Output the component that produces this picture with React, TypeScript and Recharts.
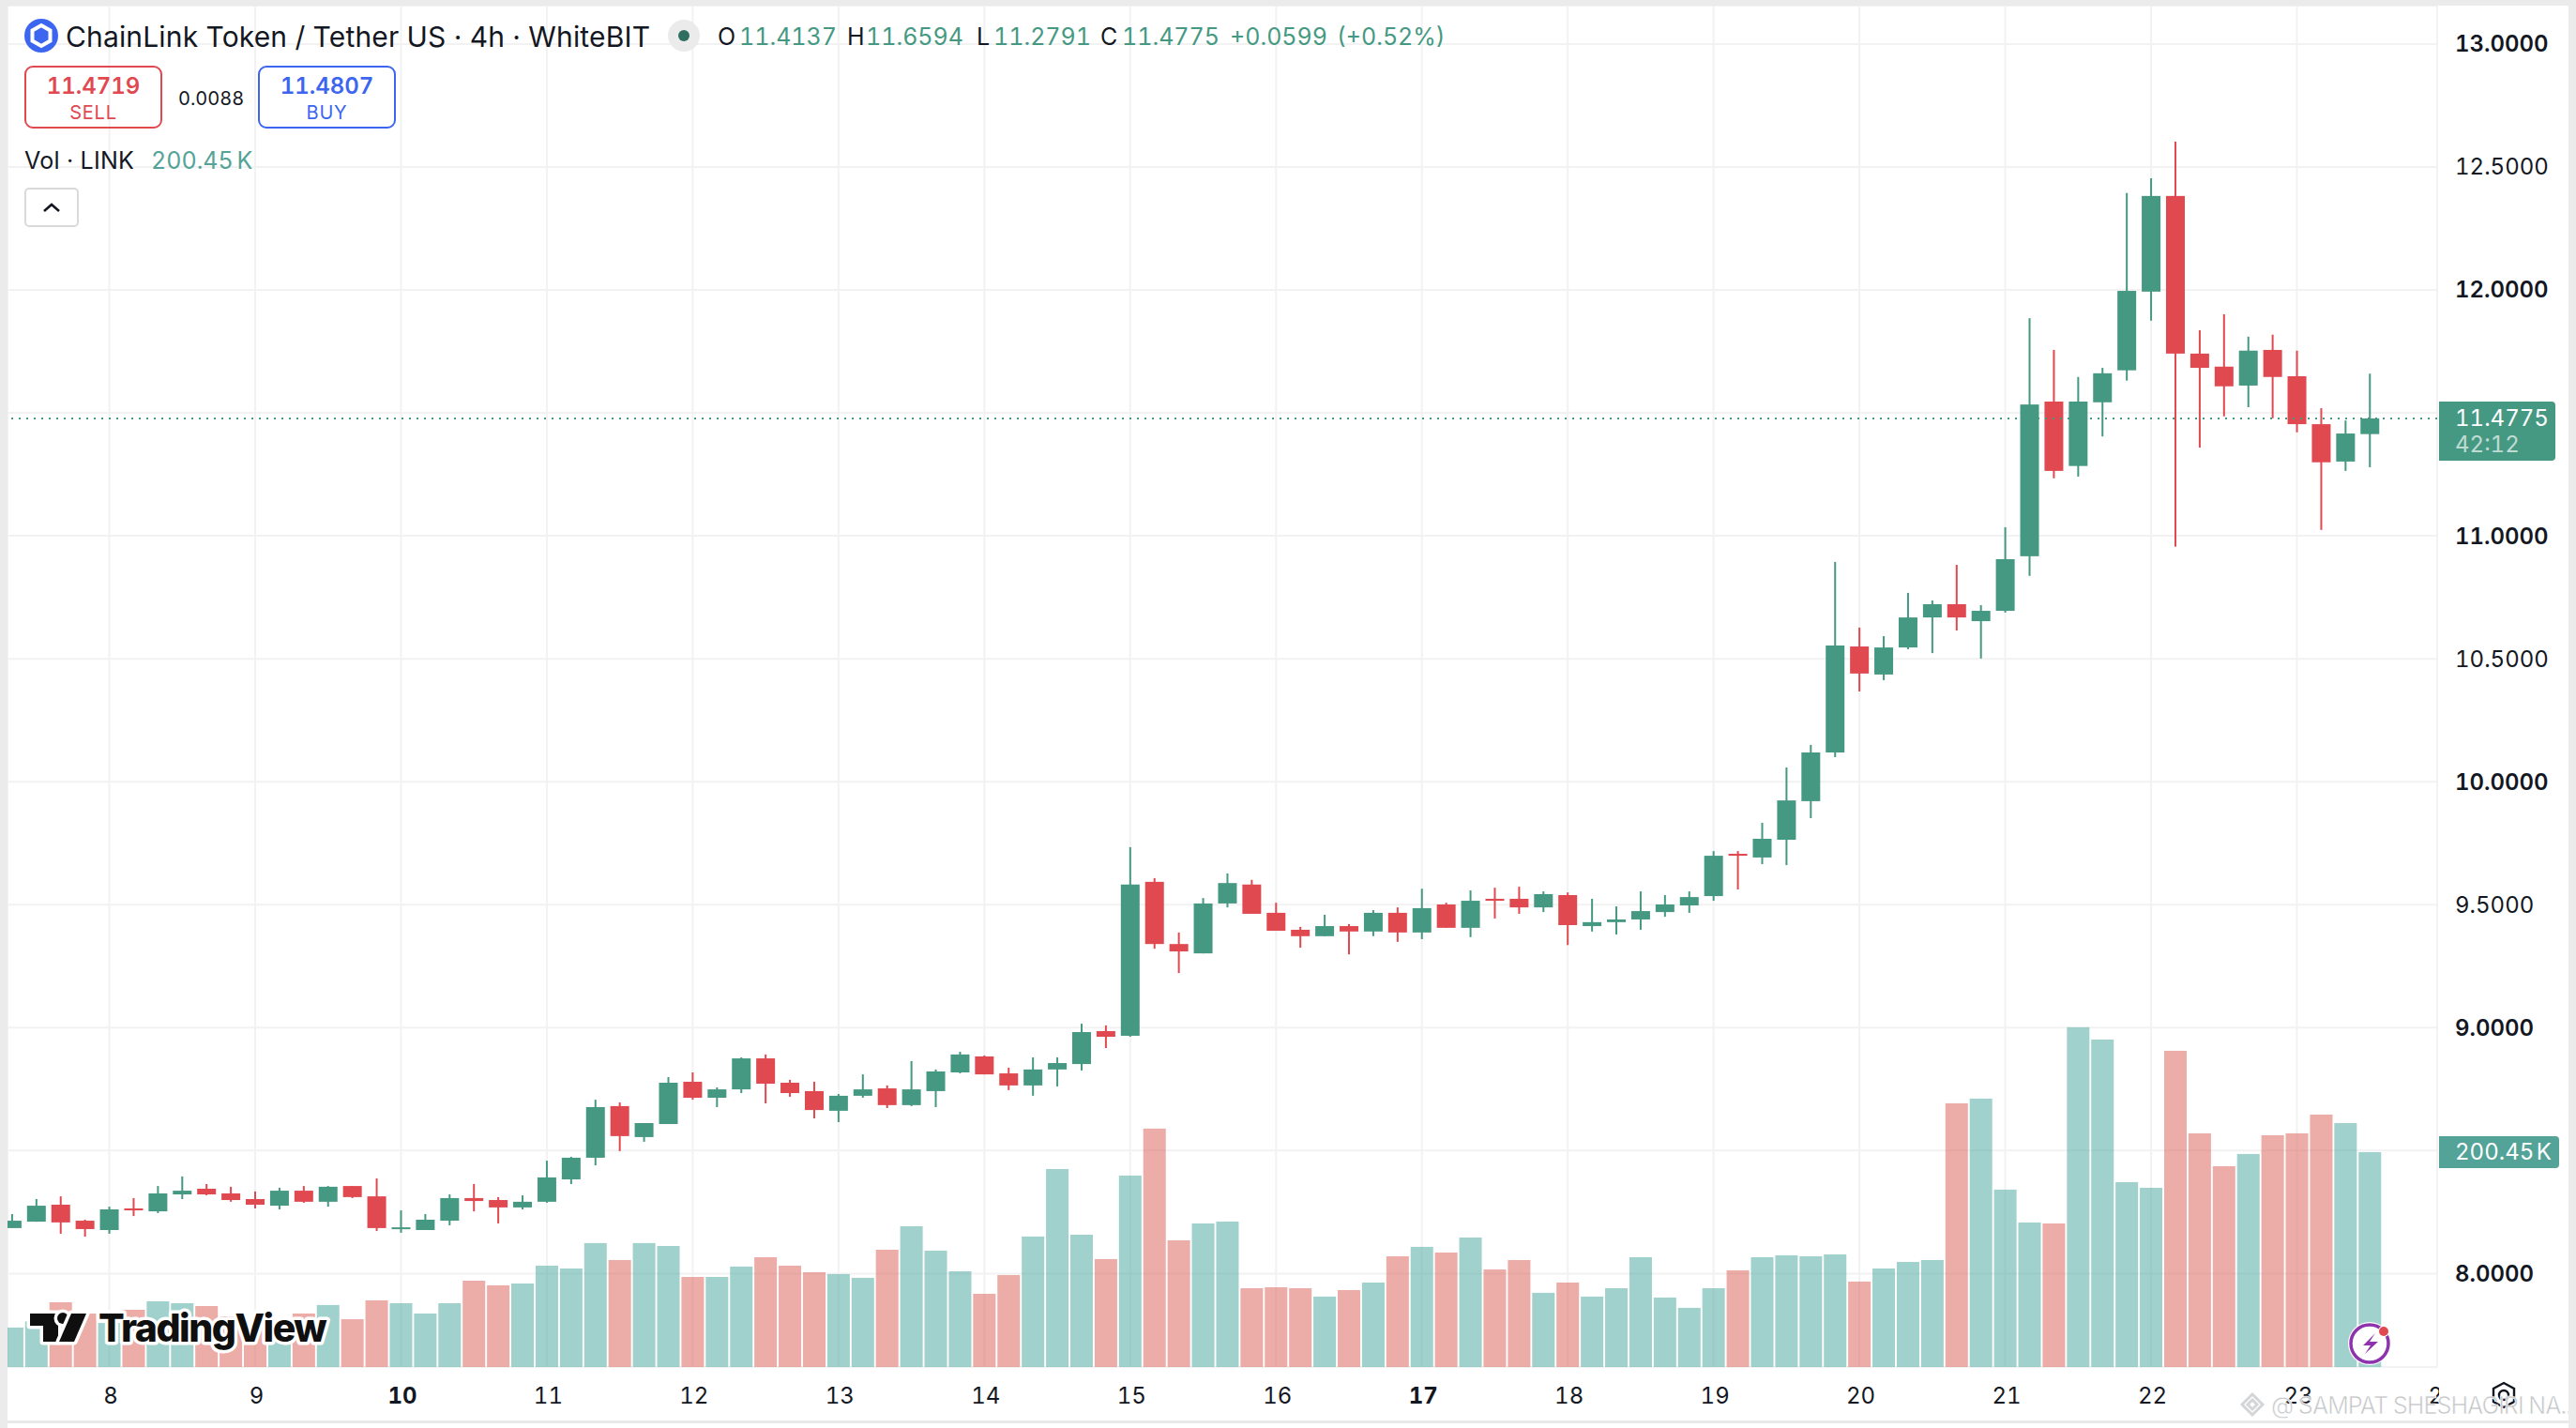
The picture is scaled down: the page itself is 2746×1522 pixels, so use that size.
import React from 'react';
import { ComposedChart, Bar, XAxis, YAxis, CartesianGrid, ReferenceLine } from 'recharts';

const barIndex = Array.from({ length: 98 }, (_, i) => i);

const opens = [
  8.185, 8.211, 8.28, 8.215, 8.177, 8.265, 8.253, 8.322, 8.345, 8.326,
  8.303, 8.276, 8.337, 8.292, 8.356, 8.314, 8.181, 8.177, 8.215, 8.307,
  8.299, 8.269, 8.292, 8.383, 8.471, 8.681, 8.555, 8.608, 8.78, 8.715,
  8.749, 8.875, 8.776, 8.742, 8.662, 8.723, 8.753, 8.685, 8.742, 8.818,
  8.883, 8.814, 8.765, 8.83, 8.852, 8.986, 8.967, 9.593, 9.34, 9.302,
  9.505, 9.582, 9.467, 9.398, 9.372, 9.413, 9.391, 9.467, 9.387, 9.501,
  9.406, 9.524, 9.524, 9.489, 9.539, 9.413, 9.429, 9.44, 9.47, 9.497,
  9.535, 9.707, 9.692, 9.764, 9.921, 10.119, 10.55, 10.436, 10.546, 10.668,
  10.722, 10.653, 10.695, 10.917, 11.546, 11.284, 11.543, 11.673, 11.993, 12.382,
  11.741, 11.688, 11.611, 11.756, 11.649, 11.454, 11.302, 11.4137,
];
const highs = [
  8.242, 8.303, 8.314, 8.219, 8.272, 8.307, 8.356, 8.395, 8.364, 8.353,
  8.334, 8.349, 8.356, 8.356, 8.356, 8.387, 8.257, 8.242, 8.322, 8.364,
  8.311, 8.318, 8.459, 8.475, 8.707, 8.696, 8.612, 8.799, 8.818, 8.757,
  8.879, 8.891, 8.788, 8.78, 8.73, 8.81, 8.765, 8.864, 8.83, 8.902,
  8.887, 8.837, 8.879, 8.879, 9.016, 9.009, 9.734, 9.608, 9.387, 9.527,
  9.627, 9.601, 9.508, 9.41, 9.459, 9.421, 9.478, 9.489, 9.565, 9.508,
  9.558, 9.569, 9.573, 9.554, 9.55, 9.524, 9.493, 9.554, 9.539, 9.554,
  9.718, 9.718, 9.833, 10.058, 10.15, 10.894, 10.627, 10.592, 10.768, 10.737,
  10.882, 10.718, 11.035, 11.885, 11.756, 11.646, 11.683, 12.394, 12.454, 12.603,
  11.836, 11.901, 11.81, 11.818, 11.753, 11.519, 11.469, 11.6594,
];
const lows = [
  8.185, 8.211, 8.162, 8.15, 8.162, 8.234, 8.246, 8.303, 8.318, 8.292,
  8.265, 8.261, 8.288, 8.272, 8.307, 8.173, 8.166, 8.177, 8.196, 8.253,
  8.204, 8.261, 8.288, 8.364, 8.44, 8.498, 8.536, 8.608, 8.707, 8.677,
  8.734, 8.692, 8.719, 8.631, 8.616, 8.715, 8.673, 8.681, 8.677, 8.814,
  8.81, 8.746, 8.723, 8.761, 8.826, 8.917, 8.963, 9.321, 9.222, 9.302,
  9.489, 9.463, 9.394, 9.325, 9.372, 9.298, 9.372, 9.349, 9.36, 9.406,
  9.368, 9.444, 9.463, 9.47, 9.336, 9.391, 9.379, 9.398, 9.451, 9.467,
  9.516, 9.562, 9.665, 9.661, 9.852, 10.1, 10.367, 10.413, 10.539, 10.523,
  10.615, 10.501, 10.688, 10.837, 11.234, 11.241, 11.404, 11.631, 11.875, 10.956,
  11.359, 11.486, 11.523, 11.478, 11.421, 11.024, 11.264, 11.2791,
];
const closes = [
  8.215, 8.276, 8.208, 8.181, 8.261, 8.257, 8.326, 8.337, 8.322, 8.299,
  8.28, 8.337, 8.292, 8.353, 8.311, 8.185, 8.188, 8.219, 8.307, 8.295,
  8.269, 8.292, 8.391, 8.471, 8.677, 8.559, 8.612, 8.776, 8.715, 8.749,
  8.875, 8.772, 8.734, 8.665, 8.723, 8.749, 8.685, 8.749, 8.822, 8.891,
  8.81, 8.765, 8.83, 8.856, 8.982, 8.963, 9.582, 9.34, 9.31, 9.505,
  9.588, 9.463, 9.394, 9.372, 9.413, 9.391, 9.467, 9.387, 9.486, 9.406,
  9.516, 9.516, 9.489, 9.543, 9.417, 9.429, 9.44, 9.474, 9.501, 9.531,
  9.699, 9.699, 9.768, 9.924, 10.119, 10.554, 10.44, 10.546, 10.668, 10.722,
  10.668, 10.695, 10.905, 11.534, 11.264, 11.546, 11.661, 11.996, 12.382, 11.741,
  11.683, 11.608, 11.753, 11.646, 11.454, 11.299, 11.416, 11.4775,
];
const volumesK = [
  36.8, 42.6, 60.4, 49.9, 41.1, 53.4, 61.3, 59.5, 56.9, 47.0,
  38.5, 38.2, 49.9, 57.8, 44.6, 62.2, 59.5, 49.9, 59.5, 80.5,
  76.2, 77.9, 94.5, 91.9, 115.6, 99.8, 115.6, 112.9, 84.0, 84.0,
  93.7, 102.4, 94.5, 88.4, 86.7, 83.2, 109.4, 131.3, 108.5, 89.3,
  68.3, 85.8, 121.7, 184.7, 123.4, 100.7, 178.6, 222.4, 118.2, 133.9,
  135.7, 73.5, 74.4, 73.5, 65.7, 71.8, 78.8, 103.3, 112.1, 106.8,
  120.8, 91.0, 99.8, 69.2, 78.8, 65.7, 73.5, 102.4, 64.8, 55.2,
  73.5, 90.2, 102.4, 104.2, 103.3, 105.0, 79.7, 91.9, 98.0, 99.8,
  246.0, 250.4, 165.5, 134.8, 133.9, 316.9, 305.5, 172.5, 167.2, 295.0,
  218.0, 187.3, 198.7, 216.2, 218.0, 235.5, 227.6, 200.45,
];

const dayTicks = [4, 10, 16, 22, 28, 34, 40, 46, 52, 58, 64, 70, 76, 82, 88, 94];
const dayLabels = ['8', '9', '10', '11', '12', '13', '14', '15', '16', '17', '18', '19', '20', '21', '22', '23'];
const boldDays = ['10', '17'];
const priceTicks = [8, 8.5, 9, 9.5, 10, 10.5, 11, 11.5, 12, 12.5, 13];
const priceTicksUnderLabels = [8.5, 11.5];

const lastPrice = 11.4775;
const UP = '#459982';
const DOWN = '#e04950';
const VOL_UP = '#43a399';
const VOL_DOWN = '#d95951';
const INK = '#131722';
const FONT = 'Inter, "Liberation Sans", sans-serif';

const rows = barIndex.map((k) => ({
  k,
  open: opens[k],
  close: closes[k],
  high: highs[k],
  low: lows[k],
  range: [lows[k], highs[k]],
  volume: volumesK[k],
}));

const Candle = (props: any) => {
  const { x, y, width, height, payload } = props;
  const perUnit = height / (payload.high - payload.low);
  const top = y + (payload.high - Math.max(payload.open, payload.close)) * perUnit;
  const bottom = y + (payload.high - Math.min(payload.open, payload.close)) * perUnit;
  const colour = payload.close >= payload.open ? UP : DOWN;
  const cx = x + width / 2;
  return (
    <g>
      <rect x={cx - 1} y={y} width={2} height={height} fill={colour} />
      <rect x={x} y={top} width={width} height={Math.max(bottom - top, 2)} fill={colour} />
    </g>
  );
};

const VolumeBar = (props: any) => {
  const { x, y, width, height, payload } = props;
  return (
    <rect
      x={x}
      y={y}
      width={width}
      height={height}
      fill={payload.close >= payload.open ? VOL_UP : VOL_DOWN}
      fillOpacity={0.5}
    />
  );
};

const DayTick = (props: any) => {
  const { x, index } = props;
  const label = dayLabels[index];
  return (
    <text
      x={x + 1.5}
      y={1487}
      textAnchor="middle"
      dominantBaseline="central"
      fontFamily={FONT}
      fontSize={24}
      fontWeight={boldDays.includes(label) ? 700 : 400}
      fill={INK}
    >
      {label}
    </text>
  );
};

const PriceTick = (props: any) => {
  const { y, payload } = props;
  if (priceTicksUnderLabels.includes(payload.value)) return <g />;
  const whole = Number.isInteger(payload.value);
  return (
    <text
      x={2617}
      y={y}
      dominantBaseline="central"
      fontFamily={FONT}
      fontSize={24}
      fontWeight={whole ? 600 : 400}
      fill={INK}
    >
      {payload.value.toFixed(4)}
    </text>
  );
};

const abs = (left: number, top: number, extra: React.CSSProperties = {}): React.CSSProperties => ({
  position: 'absolute',
  left,
  top,
  whiteSpace: 'nowrap',
  lineHeight: 1,
  ...extra,
});

const ohlcParts: [number, string, string][] = [
  [765, 'O', INK],
  [788, '11.4137', UP],
  [903, 'H', INK],
  [923, '11.6594', UP],
  [1041, 'L', INK],
  [1059, '11.2791', UP],
  [1173, 'C', INK],
  [1196, '11.4775', UP],
  [1311, '+0.0599', UP],
  [1425, '(+0.52%)', UP],
];

function Overlay() {
  return (
    <>
      {/* header */}
      <svg style={abs(0, 0)} width={780} height={80}>
        <circle cx={44} cy={38} r={18} fill="#3c66ef" />
        <polygon points="44,27 53.5,32.5 53.5,43.5 44,49 34.5,43.5 34.5,32.5" fill="none" stroke="#fff" strokeWidth={4} />
        <circle cx={729} cy={38} r={17} fill="#ebebeb" />
        <circle cx={729} cy={38} r={6} fill="#2f6f60" />
      </svg>
      <div style={abs(70, 24, { fontSize: 30, color: INK, letterSpacing: 0.15 })}>ChainLink Token / Tether US · 4h · WhiteBIT</div>
      {ohlcParts.map(([left, text, colour]) => (
        <div key={left} style={abs(left, 27, { fontSize: 25, color: colour })}>{text}</div>
      ))}

      {/* sell and buy */}
      <div style={abs(26, 70, { width: 147, height: 67, boxSizing: 'border-box', border: '2px solid ' + DOWN, borderRadius: 9, color: DOWN, textAlign: 'center' })}>
        <div style={{ fontSize: 24, fontWeight: 600, marginTop: 8 }}>11.4719</div>
        <div style={{ fontSize: 20, marginTop: 6, letterSpacing: 0.8 }}>SELL</div>
      </div>
      <div style={abs(190, 95, { fontSize: 20, color: INK })}>0.0088</div>
      <div style={abs(275, 70, { width: 147, height: 67, boxSizing: 'border-box', border: '2px solid #3c66ef', borderRadius: 9, color: '#3c66ef', textAlign: 'center' })}>
        <div style={{ fontSize: 24, fontWeight: 600, marginTop: 8 }}>11.4807</div>
        <div style={{ fontSize: 20, marginTop: 6, letterSpacing: 0.8 }}>BUY</div>
      </div>

      {/* volume legend */}
      <div style={abs(26, 159, { fontSize: 25, color: INK, letterSpacing: 0.3 })}>Vol · LINK</div>
      <div style={abs(161, 159, { fontSize: 25, color: '#53a398', wordSpacing: -3 })}>200.45 K</div>
      <div style={abs(26, 200, { width: 58, height: 42, boxSizing: 'border-box', border: '2px solid #d8dadc', borderRadius: 5, background: '#fff' })} />
      <svg style={abs(26, 200)} width={58} height={42}>
        <polyline points="21,25 29,18 37,25" fill="none" stroke={INK} strokeWidth={2.6} />
      </svg>

      {/* last price and volume labels */}
      <div style={abs(2600, 428, { width: 124, height: 63, background: UP, borderRadius: '0 4px 4px 0', color: '#fff' })}>
        <div style={{ fontSize: 24, marginTop: 6, marginLeft: 17 }}>11.4775</div>
        <div style={{ fontSize: 24, marginTop: 4, marginLeft: 17, opacity: 0.65 }}>42:12</div>
      </div>
      <div style={abs(2600, 1211, { width: 128, height: 34, background: '#53a398', borderRadius: '0 4px 4px 0', color: '#fff' })}>
        <div style={{ fontSize: 24, marginTop: 5, marginLeft: 17, wordSpacing: -4 }}>200.45 K</div>
      </div>

      {/* TradingView mark, bolt, gear, clipped next day, repost watermark */}
      <svg style={abs(0, 1380)} width={2746} height={142}>
        <defs>
          <clipPath id="nextDay">
            <rect x={2580} y={90} width={20} height={40} />
          </clipPath>
        </defs>
        <g stroke="#fff" strokeWidth={7} paintOrder="stroke" strokeLinejoin="round" fill="#0f0f0f">
          <path d="M32 20H62V50H46V33H32Z" />
          <circle cx={67} cy={25} r={6} />
          <path d="M76 20H92L79 50H63Z" />
          <text x={105} y={50} fontFamily={FONT} fontSize={41} fontWeight={800} letterSpacing={-1.5} style={{ fontVariantNumeric: 'normal' }}>TradingView</text>
        </g>
        <circle cx={2526} cy={52} r={23} fill="#fff" />
        <circle cx={2526} cy={52} r={20} fill="#fff" stroke="#8e33ad" strokeWidth={3.5} />
        <path d="M2532 41 L2519 54 H2527 L2521 63 L2535 50 H2526 Z" fill="#8e33ad" />
        <circle cx={2541} cy={39} r={6} fill="#fff" />
        <circle cx={2541} cy={39} r={5} fill={DOWN} />
        <text x={2604} y={107} textAnchor="middle" dominantBaseline="central" fontFamily={FONT} fontSize={24} fill={INK} clipPath="url(#nextDay)">24</text>
        <polygon points="2669,94 2680,100 2680,114 2669,120 2658,114 2658,100" fill="none" stroke={INK} strokeWidth={2.4} />
        <circle cx={2669} cy={107} r={5} fill="none" stroke={INK} strokeWidth={2.4} />
        <g stroke="#d3d5d7" strokeWidth={3} fill="none">
          <polygon points="2401,106 2412,117 2401,128 2390,117" />
          <polygon points="2401,112 2406,117 2401,122 2396,117" />
        </g>
        <text x={2421} y={127} fontFamily={FONT} fontSize={25} fill="#c4c6c8" stroke="#fff" strokeWidth={0.6} letterSpacing={-1}>@ SAMPAT SHESHAGIRI NA...</text>
      </svg>

      {/* page frame */}
      <div style={{ position: 'absolute', left: 8, top: 1514, width: 2730, height: 3, background: '#e9e9e9' }} />
      <div style={{ position: 'absolute', left: 0, top: 0, width: 2746, height: 6, background: '#ebebeb' }} />
      <div style={{ position: 'absolute', left: 0, top: 0, width: 8, height: 1522, background: '#ebebeb' }} />
      <div style={{ position: 'absolute', left: 2738, top: 0, width: 8, height: 1522, background: '#ebebeb' }} />
    </>
  );
}

export default function App() {
  return (
    <div style={{ position: 'absolute', left: 0, top: 0, width: 2746, height: 1522, overflow: 'hidden', background: '#fff', fontFamily: FONT, fontVariantNumeric: 'tabular-nums' }}>
      <ComposedChart
        width={2746}
        height={1522}
        data={rows}
        margin={{ top: 6, right: 0, bottom: 0, left: 8 }}
      >
        <CartesianGrid xAxisId="time" yAxisId="price" stroke="#f2f2f3" strokeWidth={2} />
        <XAxis
          xAxisId="time"
          dataKey="k"
          type="number"
          domain={[-0.1875, 99.77]}
          allowDataOverflow
          ticks={dayTicks}
          interval={0}
          height={65}
          axisLine={false}
          tickLine={false}
          tick={<DayTick />}
        />
        <XAxis xAxisId="vol" dataKey="k" type="number" domain={[-0.1875, 99.77]} allowDataOverflow hide />
        <YAxis
          yAxisId="price"
          orientation="right"
          domain={[7.62, 13.156]}
          ticks={priceTicks}
          interval={0}
          width={148}
          axisLine={false}
          tickLine={false}
          tick={<PriceTick />}
        />
        <YAxis yAxisId="volume" orientation="right" domain={[0, 1270]} hide />
        <Bar
          xAxisId="vol"
          yAxisId="volume"
          dataKey="volume"
          barSize={24}
          shape={<VolumeBar />}
          isAnimationActive={false}
        />
        <Bar
          xAxisId="time"
          yAxisId="price"
          dataKey="range"
          barSize={20}
          shape={<Candle />}
          isAnimationActive={false}
        />
        <ReferenceLine
          xAxisId="time"
          yAxisId="price"
          y={lastPrice}
          stroke={UP}
          strokeWidth={2}
          strokeDasharray="2 6"
        />
      </ComposedChart>
      <Overlay />
    </div>
  );
}
